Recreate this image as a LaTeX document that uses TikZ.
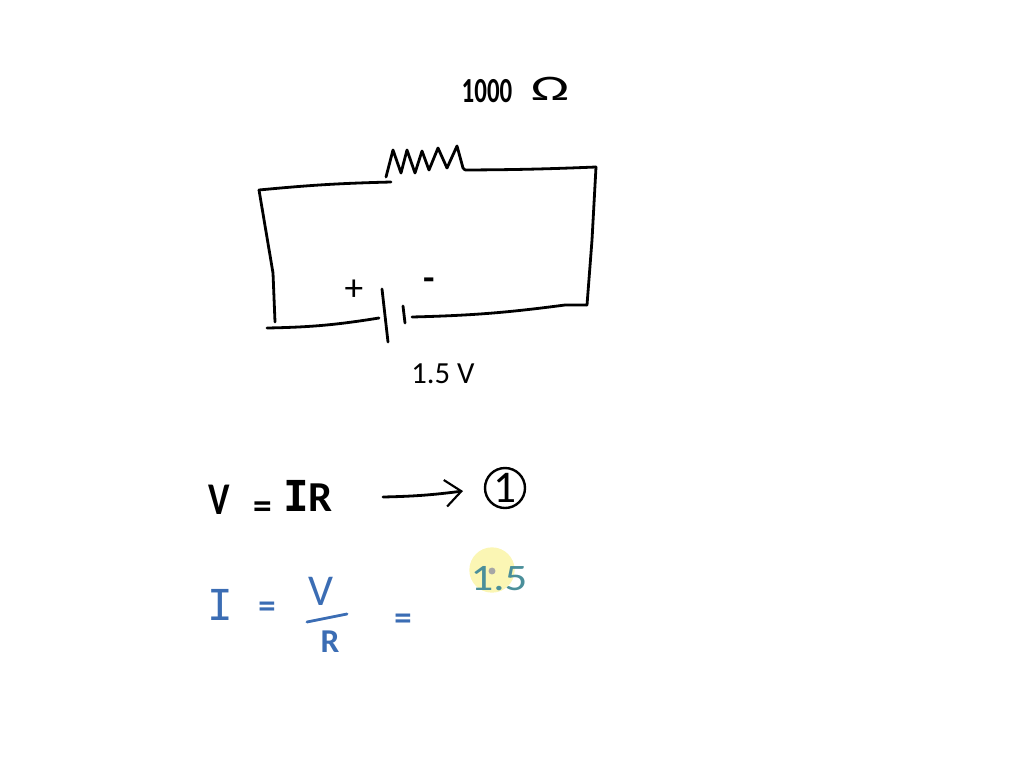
\documentclass[tikz,border=0pt]{standalone}
\usepackage{fontspec}
\setmainfont{Carlito}
\newfontfamily\barfont{DejaVu Sans Mono}
\usepackage{xcolor}
\usetikzlibrary{
arrows.meta,
positioning
}
\definecolor{penblue}{HTML}{3B6DB4}
\definecolor{pengreen}{HTML}{4A8F9A}
\definecolor{marker}{HTML}{FBF6B4}
\newcommand{\penfont}[1]{\fontsize{#1}{#1}\selectfont}
\tikzset{
  wire/.style={line width=2.1pt,line cap=round,line join=round},
  hand/.style={inner sep=0pt},
  blue hand/.style={hand,text=penblue},
}

\begin{document}
\begin{tikzpicture}[x=0.75pt,y=-0.75pt]
    \useasboundingbox (0,0) rectangle (1024,768);

    % circuit
    \coordinate (TL) at (259,190);
    \coordinate (TR) at (596,167);
    \coordinate (BR) at (587,305);
    \coordinate (BL) at (267,328);
    \coordinate (LE) at (275,322);
    \coordinate (R1) at (391,182);
    \coordinate (R2) at (465,170);
    \coordinate (B1) at (379,318);
    \coordinate (B2) at (412,317);
    \draw[wire] (TL) to[bend left=2] (R1);
    \draw[wire] (386,177) -- (393,150) -- (401,173) -- (407,150) -- (415,173)
      -- (422,151) -- (429,170) -- (438,148) -- (447,168) -- (457,146) -- (463,168) -- (R2);
    \draw[wire] (R2) to[bend right=1] (TR);
    \draw[wire] (TR) -- (592,240) -- (BR);
    \draw[wire] (BR) -- (565,305) to[bend left=3] (B2);
    \draw[wire] (B1) to[bend left=4] (BL);
    \draw[wire] (TL) -- (273,273) -- (LE);
    \draw[wire] (382,289) -- (388,342);
    \draw[wire] (403,306) -- (405,323);

    \node[hand,font=\penfont{22}\bfseries] (Rval) at (487,91) {\scalebox{.85}[1.2]{1000}};
    \node[hand,font=\penfont{27}] (Rohm) at (550,89) {\scalebox{1.6}[1]{Ω}};
    \node[hand,font=\penfont{28}] (plus) at (354,290) {+};
    \node[hand,font=\penfont{28}\bfseries] (minus) at (429,284) {-};
    \node[hand,font=\penfont{23}] (Bval) at (443,374) {1.5 V};

    % ohm's law
    \node[hand,font=\penfont{34}\bfseries] (Eq1) at (219,500) {\scalebox{.8}[1]{V}};
    \node[hand,font=\penfont{28}\bfseries] (Eq2) at (263,510) {=};
    \node[hand,font=\penfont{32}\bfseries] (Eq3) at (308,496) {{\barfont I}R};
    \node[hand,font=\penfont{34},draw,line width=1.8pt,circle,minimum size=30pt] (One) at (505,488) {1};
    \coordinate (A1) at (383,497);
    \coordinate (A2) at (463,491);
    \draw[wire,-{Straight Barb[length=12pt,width=20pt,line width=1.6pt]}] (A1) to[bend right=3] (A2);

    % current
    \node[blue hand,font=\penfont{32}\barfont] (I1) at (220,605) {I};
    \node[blue hand,font=\penfont{26}\bfseries] (I2) at (267,610) {=};
    \node[blue hand,font=\penfont{33}] (I3) at (321,591) {V};
    \node[blue hand,font=\penfont{25}\bfseries] (I4) at (330,642) {R};
    \node[blue hand,font=\penfont{26}\bfseries] (I5) at (403,622) {=};
    \coordinate (F1) at (307,622);
    \coordinate (F2) at (347,614);
    \draw[wire,penblue] (F1) -- (F2);

    % pointer
    \fill[marker] (492,570) circle (17pt);
    \node[hand,font=\penfont{28},text=pengreen] (Num) at (499,579) {\scalebox{1.2}[1]{1.5}};
    \fill[gray!70] (492,571) circle (2.6pt);
\end{tikzpicture}
\end{document}
